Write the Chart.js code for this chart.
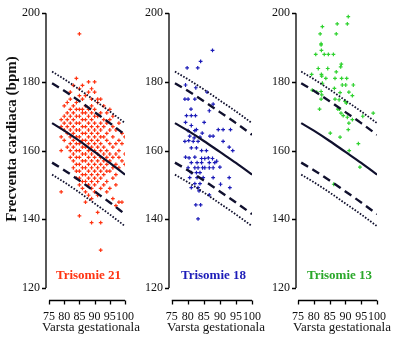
<!DOCTYPE html>
<html>
<head>
<meta charset="utf-8">
<script src="https://cdn.jsdelivr.net/npm/chart.js@4.4.0/dist/chart.umd.min.js"></script>
<style>
  body { margin: 0; background: #fff; }
  #wrap { position: relative; width: 398px; height: 340px; }
  #wrap canvas { position: absolute; left: 0; top: 0; }
</style>
</head>
<body>
<div id="wrap">
  <canvas id="c21" width="398" height="340"></canvas>
  <canvas id="c18" width="398" height="340"></canvas>
  <canvas id="c13" width="398" height="340"></canvas>
</div>
<script>
// axis values
const ageTicks = [75, 80, 85, 90, 95, 100];
const bpmTicks = [120, 140, 160, 180, 200];
const yTitle = 'Frecventa cardiaca (bpm)';
const xTitle = 'Varsta gestationala';

// reference curves (gestational age -> bpm)
const refAges = [76, 80, 85, 90, 95, 100];
const refDottedHigh = [183, 180.8, 177.8, 174.6, 171.4, 168];
const refDashedHigh = [179.6, 177.4, 174.4, 171.2, 168, 164.6];
const refMedian = [168, 165.8, 162.8, 159.6, 156.4, 153];
const refDashedLow = [156.5, 154.3, 151.3, 148.1, 144.9, 141.5];
const refDottedLow = [153, 150.8, 147.8, 144.6, 141.4, 138];

// Trisomie 21: rows of [bpm, [ages]]
const t21Rows = [
    [194, [85]],
    [181, [84]],
    [180, [88, 90]],
    [179, [83, 86]],
    [178, [85, 89]],
    [177, [82, 88, 90]],
    [176, [85, 87]],
    [175, [82, 86, 89, 91, 92]],
    [174, [81, 84, 91]],
    [173, [80, 83, 87, 89, 93]],
    [172, [82, 84, 85, 86, 88, 90, 95]],
    [171, [81, 83, 86, 87, 89, 92, 94]],
    [170, [80, 82, 84, 85, 88, 90, 91, 96]],
    [169, [79, 81, 83, 86, 87, 89, 93, 95]],
    [168, [80, 82, 84, 85, 88, 90, 92, 94, 98]],
    [167, [79, 81, 83, 86, 87, 89, 91, 93, 96]],
    [166, [80, 82, 84, 85, 88, 90, 92, 95, 97]],
    [165, [81, 83, 86, 87, 89, 91, 94, 99]],
    [164, [79, 82, 84, 85, 88, 90, 92, 93, 96, 100]],
    [163, [80, 83, 86, 87, 89, 91, 94, 98]],
    [162, [82, 84, 85, 88, 90, 92, 95, 97, 99]],
    [161, [81, 83, 86, 87, 89, 91, 93, 96]],
    [160, [79, 82, 84, 85, 88, 90, 92, 94, 98]],
    [159, [83, 86, 87, 89, 91, 93, 95, 97, 100]],
    [158, [82, 84, 85, 88, 90, 92, 94, 96, 98]],
    [157, [83, 86, 87, 89, 91, 93, 95, 99]],
    [156, [84, 85, 88, 90, 92, 94, 97, 100]],
    [155, [83, 86, 87, 89, 91, 93, 96, 98]],
    [154, [84, 85, 88, 90, 92, 94, 95]],
    [153, [86, 87, 89, 91, 93, 97]],
    [152, [84, 85, 88, 90, 92, 96]],
    [151, [86, 87, 89, 91, 94]],
    [150, [85, 88, 90, 93, 97]],
    [149, [86, 89, 92, 95]],
    [148, [79, 87, 90, 94]],
    [147, [88, 91]],
    [146, [89, 96]],
    [145, [87, 98, 99]],
    [144, [97]],
    [142, [91]],
    [141, [85]],
    [139, [89, 92]],
    [131, [92]]
];

// Trisomie 18: [age, bpm]
const t18Points = [
    [87.7, 189.2], [84.0, 186.0], [79.8, 184.1], [83.1, 184.1], [79.3, 179.1],
    [82.5, 178.3], [86.0, 177.0], [79.1, 175.0], [80.1, 175.0], [82.2, 175.0],
    [87.9, 173.5], [81.0, 172.1], [86.7, 171.6], [79.6, 170.2], [81.1, 170.2],
    [82.4, 170.2], [85.1, 168.2], [79.3, 168.2], [81.1, 167.3], [82.7, 166.1],
    [89.5, 166.1], [91.0, 166.1], [93.3, 166.1], [84.5, 165.1], [80.1, 165.8],
    [82.2, 165.8], [87.9, 164.2], [80.6, 164.2], [82.0, 163.7], [83.8, 163.9],
    [86.9, 164.2], [79.1, 162.7], [80.3, 162.9], [81.7, 162.7], [83.2, 162.7],
    [91.0, 162.7], [81.1, 160.8], [82.7, 160.8], [84.3, 160.0], [85.8, 160.0],
    [92.9, 161.0], [94.0, 160.0], [79.3, 158.1], [80.4, 157.9], [82.2, 158.1],
    [84.3, 157.7], [85.3, 157.7], [86.4, 157.9], [87.7, 157.7], [89.0, 156.9],
    [81.1, 156.5], [82.9, 156.5], [84.3, 156.5], [86.7, 156.5], [88.4, 156.5],
    [80.1, 155.0], [82.2, 155.0], [83.2, 155.0], [84.6, 155.0], [85.3, 155.0],
    [86.7, 155.0], [87.9, 155.0], [90.0, 155.2], [81.1, 153.6], [82.7, 153.6],
    [83.8, 153.6], [80.6, 152.1], [82.9, 152.1], [84.8, 152.1], [87.9, 152.1],
    [92.9, 152.1], [82.2, 150.4], [83.8, 150.4], [90.2, 150.2], [93.1, 149.2],
    [81.1, 149.2], [83.2, 149.2], [83.5, 148.3], [86.7, 147.1], [82.5, 144.2],
    [84.0, 144.2], [83.2, 140.1]
];

// Trisomie 13: [age, bpm]
const t13Points = [
    [90.9, 199.0], [82.7, 196.1], [87.4, 196.9], [90.6, 196.9], [82.0, 194.0],
    [87.1, 194.0], [82.3, 191.1], [82.3, 190.8], [82.4, 189.2], [80.6, 188.0],
    [83.3, 188.0], [84.6, 188.0], [86.2, 188.0], [88.7, 185.2], [88.5, 184.4],
    [81.4, 183.9], [84.4, 183.9], [87.1, 182.9], [79.3, 182.2], [82.4, 182.2],
    [82.5, 181.7], [83.8, 181.0], [86.7, 181.0], [88.8, 181.0], [90.4, 181.0],
    [82.7, 179.6], [89.0, 179.1], [90.1, 179.1], [92.5, 179.1], [86.5, 178.1],
    [79.5, 177.6], [82.3, 177.2], [80.9, 177.0], [88.3, 176.9], [91.1, 177.0],
    [82.5, 176.2], [92.2, 176.0], [82.3, 175.0], [86.7, 175.0], [88.0, 174.8],
    [89.9, 174.3], [90.3, 173.8], [81.8, 172.1], [87.6, 172.1], [88.1, 172.1],
    [98.8, 170.9], [88.6, 170.9], [89.3, 170.2], [90.6, 169.7], [92.2, 169.0],
    [95.5, 170.0], [91.1, 168.0], [90.9, 166.1], [85.2, 165.1], [88.3, 163.9],
    [94.1, 162.0], [91.2, 160.0], [94.6, 155.2], [86.3, 150.2]
];

const lineColor = '#10102e';

function toXY(xs, ys) {
    return xs.map((x, i) => ({ x: x, y: ys[i] }));
}

function refLines() {
    const base = { showLine: true, pointRadius: 0, borderColor: lineColor, fill: false, cubicInterpolationMode: 'monotone' };
    return [
        { ...base, data: toXY(refAges, refMedian), borderWidth: 2.2 },
        { ...base, data: toXY(refAges, refDashedHigh), borderWidth: 2.4, borderDash: [8, 5] },
        { ...base, data: toXY(refAges, refDashedLow), borderWidth: 2.4, borderDash: [8, 5] },
        { ...base, data: toXY(refAges, refDottedHigh), borderWidth: 1.8, borderDash: [1.6, 1.6] },
        { ...base, data: toXY(refAges, refDottedLow), borderWidth: 1.8, borderDash: [1.6, 1.6] }
    ];
}

// axis lines, tick marks, titles and group labels
const panelDecor = {
    id: 'panelDecor',
    afterDraw(chart, args, opts) {
        const { ctx, chartArea: area, scales: { x, y } } = chart;
        ctx.save();
        ctx.strokeStyle = '#000';
        ctx.lineWidth = 1.3;
        ctx.beginPath();
        ctx.moveTo(area.left, y.getPixelForValue(bpmTicks[0]));
        ctx.lineTo(area.left, y.getPixelForValue(bpmTicks[bpmTicks.length - 1]));
        bpmTicks.forEach(v => {
            const py = Math.round(y.getPixelForValue(v)) + 0.5;
            ctx.moveTo(area.left - 4, py);
            ctx.lineTo(area.left, py);
        });
        const by = Math.round(area.bottom) + 0.5;
        ctx.moveTo(x.getPixelForValue(ageTicks[0]), by);
        ctx.lineTo(x.getPixelForValue(ageTicks[ageTicks.length - 1]), by);
        ageTicks.forEach(v => {
            const px = Math.round(x.getPixelForValue(v)) + 0.5;
            ctx.moveTo(px, by);
            ctx.lineTo(px, by + 4);
        });
        ctx.stroke();

        const cx = (area.left + area.right) / 2;
        ctx.textAlign = 'center';
        ctx.textBaseline = 'middle';
        ctx.fillStyle = '#111';
        ctx.font = '13px "Liberation Serif"';
        ctx.fillText(xTitle, cx + 5.5, 328);

        ctx.fillStyle = opts.labelColor;
        ctx.font = 'bold 13px "Liberation Serif"';
        ctx.fillText(opts.label, cx + 3, 276);

        if (opts.showYTitle) {
            ctx.translate(12, 139);
            ctx.rotate(-Math.PI / 2);
            ctx.fillStyle = '#111';
            ctx.font = 'bold 15px "Liberation Serif"';
            ctx.fillText(yTitle, 0, 0);
        }
        ctx.restore();
    }
};

function makePanel(canvasId, points, color, label, labelColor, padLeft, padRight, xMin, showYTitle) {
    const tickFont = { family: 'Liberation Serif', size: 12 };
    return new Chart(document.getElementById(canvasId), {
        type: 'scatter',
        data: {
            datasets: [
                ...refLines(),
                {
                    data: points.map(p => ({ x: p[0], y: p[1] })),
                    pointStyle: 'cross',
                    pointRadius: 1.9,
                    borderColor: color,
                    backgroundColor: color,
                    borderWidth: 1.2,
                    showLine: false
                }
            ]
        },
        options: {
            responsive: false,
            animation: false,
            devicePixelRatio: 1,
            layout: { padding: { left: padLeft, right: padRight, top: 11, bottom: 0 } },
            plugins: {
                legend: { display: false },
                tooltip: { enabled: false },
                panelDecor: { label: label, labelColor: labelColor, showYTitle: showYTitle }
            },
            scales: {
                x: {
                    type: 'linear',
                    min: xMin,
                    max: 100,
                    grid: { display: false, drawTicks: false },
                    border: { display: false },
                    afterBuildTicks: s => { s.ticks = ageTicks.map(v => ({ value: v })); },
                    afterFit: s => { s.height = 40; },
                    ticks: { padding: 10, font: tickFont, color: '#111', maxRotation: 0, autoSkip: false }
                },
                y: {
                    type: 'linear',
                    min: 116.5,
                    max: 200,
                    grid: { display: false, drawTicks: false },
                    border: { display: false },
                    afterBuildTicks: s => { s.ticks = bpmTicks.map(v => ({ value: v })); },
                    afterFit: s => { s.width = 40; },
                    ticks: { padding: 6, font: tickFont, color: '#111' }
                }
            }
        },
        plugins: [panelDecor]
    });
}

const t21Points = [];
t21Rows.forEach(row => row[1].forEach(age => t21Points.push([age, row[0]])));

makePanel('c21', t21Points, '#ff3311', 'Trisomie 21', '#ff3311', 6, 273, 74, true);
makePanel('c18', t18Points, '#1c1cb8', 'Trisomie 18', '#1c1cb8', 129, 146, 74.15, false);
makePanel('c13', t13Points, '#2fd22f', 'Trisomie 13', '#2aa82a', 256, 21, 74.35, false);
</script>
</body>
</html>
